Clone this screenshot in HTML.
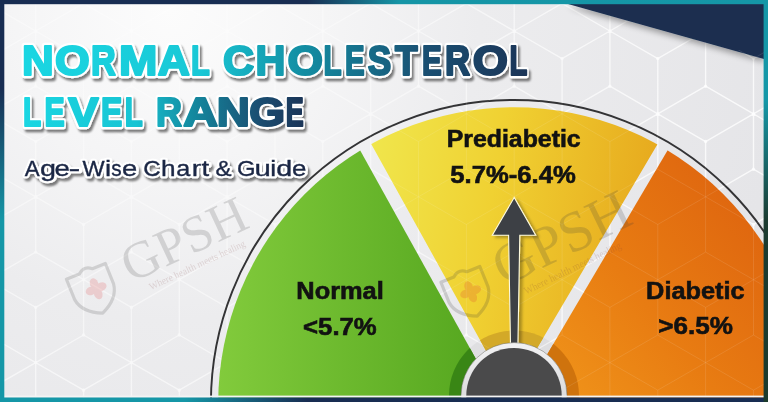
<!DOCTYPE html>
<html><head><meta charset="utf-8">
<style>
html,body{margin:0;padding:0;width:768px;height:402px;overflow:hidden;background:#eeeef0}
svg{display:block;will-change:transform}
text{font-family:"Liberation Sans",sans-serif}
</style></head>
<body>
<svg width="768" height="402" viewBox="0 0 768 402">
<defs>
  <radialGradient id="bg" cx="170" cy="10" r="620" gradientUnits="userSpaceOnUse">
    <stop offset="0" stop-color="#fcfcfc"/>
    <stop offset="0.25" stop-color="#f5f5f6"/>
    <stop offset="0.5" stop-color="#ececee"/>
    <stop offset="1" stop-color="#e5e5e8"/>
  </radialGradient>
  <linearGradient id="t1" x1="25" y1="0" x2="525" y2="0" gradientUnits="userSpaceOnUse">
    <stop offset="0" stop-color="#1ad6e2"/>
    <stop offset="0.35" stop-color="#19c8d6"/>
    <stop offset="0.55" stop-color="#138fa4"/>
    <stop offset="0.8" stop-color="#1a4f72"/>
    <stop offset="1" stop-color="#1b3558"/>
  </linearGradient>
  <linearGradient id="t2" x1="25" y1="0" x2="303" y2="0" gradientUnits="userSpaceOnUse">
    <stop offset="0" stop-color="#1ad6e2"/>
    <stop offset="0.4" stop-color="#18c4d3"/>
    <stop offset="0.6" stop-color="#148aa0"/>
    <stop offset="0.85" stop-color="#1a4c70"/>
    <stop offset="1" stop-color="#1b3558"/>
  </linearGradient>
  <linearGradient id="gGreen" x1="217" y1="0" x2="500" y2="0" gradientUnits="userSpaceOnUse">
    <stop offset="0" stop-color="#82cb3c"/>
    <stop offset="1" stop-color="#52a41d"/>
  </linearGradient>
  <linearGradient id="gYellow" x1="370" y1="150" x2="650" y2="200" gradientUnits="userSpaceOnUse">
    <stop offset="0" stop-color="#f0e64c"/>
    <stop offset="0.45" stop-color="#f0d132"/>
    <stop offset="1" stop-color="#e7aa1e"/>
  </linearGradient>
  <linearGradient id="gOrange" x1="540" y1="380" x2="764" y2="200" gradientUnits="userSpaceOnUse">
    <stop offset="0" stop-color="#f0941a"/>
    <stop offset="0.45" stop-color="#e87c12"/>
    <stop offset="1" stop-color="#de640f"/>
  </linearGradient>
  <linearGradient id="fTop" x1="0" y1="0" x2="768" y2="0" gradientUnits="userSpaceOnUse">
    <stop offset="0" stop-color="#182d52"/>
    <stop offset="0.4" stop-color="#182d52"/>
    <stop offset="0.52" stop-color="#1595a6"/>
    <stop offset="1" stop-color="#1597a7"/>
  </linearGradient>
  <linearGradient id="fLeft" x1="0" y1="0" x2="0" y2="402" gradientUnits="userSpaceOnUse">
    <stop offset="0" stop-color="#182d52"/>
    <stop offset="0.22" stop-color="#182d52"/>
    <stop offset="0.55" stop-color="#1597a7"/>
    <stop offset="1" stop-color="#1597a7"/>
  </linearGradient>
  <linearGradient id="fBot" x1="0" y1="0" x2="768" y2="0" gradientUnits="userSpaceOnUse">
    <stop offset="0" stop-color="#1597a7"/>
    <stop offset="0.24" stop-color="#1597a7"/>
    <stop offset="0.4" stop-color="#182d52"/>
    <stop offset="1" stop-color="#182d52"/>
  </linearGradient>
  <linearGradient id="fRight" x1="0" y1="0" x2="0" y2="402" gradientUnits="userSpaceOnUse">
    <stop offset="0" stop-color="#1597a7"/>
    <stop offset="0.25" stop-color="#1597a7"/>
    <stop offset="0.55" stop-color="#1c3b30"/>
    <stop offset="1" stop-color="#1c3b2c"/>
  </linearGradient>
  <radialGradient id="hexMaskG" cx="170" cy="60" r="520" gradientUnits="userSpaceOnUse">
    <stop offset="0" stop-color="#fff" stop-opacity="0.35"/>
    <stop offset="0.45" stop-color="#fff" stop-opacity="0.6"/>
    <stop offset="1" stop-color="#fff" stop-opacity="1"/>
  </radialGradient>
  <mask id="hexMask" maskUnits="userSpaceOnUse" x="0" y="0" width="768" height="402"><rect width="768" height="402" fill="url(#hexMaskG)"/></mask>
  <clipPath id="segClip"><circle cx="514" cy="403.1" r="295.8"/></clipPath>
  <clipPath id="ringClip"><circle cx="514" cy="403.1" r="302"/></clipPath>
  <clipPath id="segShapes">
    <polygon points="304.45,50 499.8,402 150,402 150,50"/>
    <polygon points="319.05,50 514.4,402 505.4,402 713.1,50"/>
    <polygon points="726.8,50 519.1,402 800,402 800,50"/>
  </clipPath>
  <linearGradient id="hubRing" x1="0" y1="342" x2="0" y2="396" gradientUnits="userSpaceOnUse">
    <stop offset="0" stop-color="#f2f2f3"/>
    <stop offset="1" stop-color="#dcdcde"/>
  </linearGradient>
  <filter id="tshadow" x="-10%" y="-30%" width="120%" height="160%">
    <feGaussianBlur in="SourceAlpha" stdDeviation="0.9"/>
    <feOffset dx="1.5" dy="2.5" result="b"/>
    <feComponentTransfer><feFuncA type="linear" slope="0.5"/></feComponentTransfer>
    <feMerge><feMergeNode/><feMergeNode in="SourceGraphic"/></feMerge>
  </filter>
  <filter id="triShadow" x="-10%" y="-30%" width="120%" height="180%">
    <feGaussianBlur in="SourceAlpha" stdDeviation="3"/>
    <feOffset dx="0" dy="3"/>
    <feComponentTransfer><feFuncA type="linear" slope="0.35"/></feComponentTransfer>
    <feMerge><feMergeNode/><feMergeNode in="SourceGraphic"/></feMerge>
  </filter>
  <filter id="arShadow" x="-50%" y="-10%" width="200%" height="120%">
    <feGaussianBlur in="SourceAlpha" stdDeviation="1.6"/>
    <feOffset dx="3" dy="1.5"/>
    <feComponentTransfer><feFuncA type="linear" slope="0.3"/></feComponentTransfer>
    <feMerge><feMergeNode/><feMergeNode in="SourceGraphic"/></feMerge>
  </filter>
</defs>

<!-- background -->
<rect width="768" height="402" fill="url(#bg)"/>
<g mask="url(#hexMask)">
<path d="M-12.1 445.5L-12.1 390.2M-12.1 445.5L-12.1 500.8M-12.1 445.5L35.7 417.9M-12.1 445.5L-60.0 417.9M-12.1 445.5L35.7 473.1M-12.1 445.5L-60.0 473.1M83.6 445.5L83.6 390.2M83.6 445.5L83.6 500.8M83.6 445.5L131.4 417.9M83.6 445.5L35.7 417.9M83.6 445.5L131.4 473.1M83.6 445.5L35.7 473.1M179.3 445.5L179.3 390.2M179.3 445.5L179.3 500.8M179.3 445.5L227.1 417.9M179.3 445.5L131.4 417.9M179.3 445.5L227.1 473.1M179.3 445.5L131.4 473.1M275.0 445.5L275.0 390.2M275.0 445.5L275.0 500.8M275.0 445.5L322.8 417.9M275.0 445.5L227.1 417.9M275.0 445.5L322.8 473.1M275.0 445.5L227.1 473.1M370.7 445.5L370.7 390.2M370.7 445.5L370.7 500.8M370.7 445.5L418.5 417.9M370.7 445.5L322.8 417.9M370.7 445.5L418.5 473.1M370.7 445.5L322.8 473.1M466.4 445.5L466.4 390.2M466.4 445.5L466.4 500.8M466.4 445.5L514.2 417.9M466.4 445.5L418.5 417.9M466.4 445.5L514.2 473.1M466.4 445.5L418.5 473.1M562.1 445.5L562.1 390.2M562.1 445.5L562.1 500.8M562.1 445.5L609.9 417.9M562.1 445.5L514.2 417.9M562.1 445.5L609.9 473.1M562.1 445.5L514.2 473.1M657.8 445.5L657.8 390.2M657.8 445.5L657.8 500.8M657.8 445.5L705.6 417.9M657.8 445.5L609.9 417.9M657.8 445.5L705.6 473.1M657.8 445.5L609.9 473.1M753.5 445.5L753.5 390.2M753.5 445.5L753.5 500.8M753.5 445.5L801.3 417.9M753.5 445.5L705.6 417.9M753.5 445.5L801.3 473.1M753.5 445.5L705.6 473.1M-60.0 362.6L-60.0 307.3M-60.0 362.6L-60.0 417.9M-60.0 362.6L-12.1 335.0M-60.0 362.6L-107.9 335.0M-60.0 362.6L-12.1 390.2M-60.0 362.6L-107.9 390.2M35.7 362.6L35.7 307.3M35.7 362.6L35.7 417.9M35.7 362.6L83.6 335.0M35.7 362.6L-12.2 335.0M35.7 362.6L83.6 390.2M35.7 362.6L-12.2 390.2M131.4 362.6L131.4 307.3M131.4 362.6L131.4 417.9M131.4 362.6L179.3 335.0M131.4 362.6L83.5 335.0M131.4 362.6L179.3 390.2M131.4 362.6L83.5 390.2M227.1 362.6L227.1 307.3M227.1 362.6L227.1 417.9M227.1 362.6L275.0 335.0M227.1 362.6L179.2 335.0M227.1 362.6L275.0 390.2M227.1 362.6L179.2 390.2M322.8 362.6L322.8 307.3M322.8 362.6L322.8 417.9M322.8 362.6L370.7 335.0M322.8 362.6L274.9 335.0M322.8 362.6L370.7 390.2M322.8 362.6L274.9 390.2M418.5 362.6L418.5 307.3M418.5 362.6L418.5 417.9M418.5 362.6L466.4 335.0M418.5 362.6L370.6 335.0M418.5 362.6L466.4 390.2M418.5 362.6L370.6 390.2M514.2 362.6L514.2 307.3M514.2 362.6L514.2 417.9M514.2 362.6L562.1 335.0M514.2 362.6L466.3 335.0M514.2 362.6L562.1 390.2M514.2 362.6L466.3 390.2M609.9 362.6L609.9 307.3M609.9 362.6L609.9 417.9M609.9 362.6L657.8 335.0M609.9 362.6L562.0 335.0M609.9 362.6L657.8 390.2M609.9 362.6L562.0 390.2M705.6 362.6L705.6 307.3M705.6 362.6L705.6 417.9M705.6 362.6L753.5 335.0M705.6 362.6L657.7 335.0M705.6 362.6L753.5 390.2M705.6 362.6L657.7 390.2M801.3 362.6L801.3 307.3M801.3 362.6L801.3 417.9M801.3 362.6L849.2 335.0M801.3 362.6L753.4 335.0M801.3 362.6L849.2 390.2M801.3 362.6L753.4 390.2M-12.1 279.7L-12.1 224.4M-12.1 279.7L-12.1 335.0M-12.1 279.7L35.7 252.1M-12.1 279.7L-60.0 252.1M-12.1 279.7L35.7 307.4M-12.1 279.7L-60.0 307.4M83.6 279.7L83.6 224.4M83.6 279.7L83.6 335.0M83.6 279.7L131.4 252.1M83.6 279.7L35.7 252.1M83.6 279.7L131.4 307.4M83.6 279.7L35.7 307.4M179.3 279.7L179.3 224.4M179.3 279.7L179.3 335.0M179.3 279.7L227.1 252.1M179.3 279.7L131.4 252.1M179.3 279.7L227.1 307.4M179.3 279.7L131.4 307.4M275.0 279.7L275.0 224.4M275.0 279.7L275.0 335.0M275.0 279.7L322.8 252.1M275.0 279.7L227.1 252.1M275.0 279.7L322.8 307.4M275.0 279.7L227.1 307.4M370.7 279.7L370.7 224.4M370.7 279.7L370.7 335.0M370.7 279.7L418.5 252.1M370.7 279.7L322.8 252.1M370.7 279.7L418.5 307.4M370.7 279.7L322.8 307.4M466.4 279.7L466.4 224.4M466.4 279.7L466.4 335.0M466.4 279.7L514.2 252.1M466.4 279.7L418.5 252.1M466.4 279.7L514.2 307.4M466.4 279.7L418.5 307.4M562.1 279.7L562.1 224.4M562.1 279.7L562.1 335.0M562.1 279.7L609.9 252.1M562.1 279.7L514.2 252.1M562.1 279.7L609.9 307.4M562.1 279.7L514.2 307.4M657.8 279.7L657.8 224.4M657.8 279.7L657.8 335.0M657.8 279.7L705.6 252.1M657.8 279.7L609.9 252.1M657.8 279.7L705.6 307.4M657.8 279.7L609.9 307.4M753.5 279.7L753.5 224.4M753.5 279.7L753.5 335.0M753.5 279.7L801.3 252.1M753.5 279.7L705.6 252.1M753.5 279.7L801.3 307.4M753.5 279.7L705.6 307.4M-60.0 196.8L-60.0 141.5M-60.0 196.8L-60.0 252.1M-60.0 196.8L-12.1 169.2M-60.0 196.8L-107.9 169.2M-60.0 196.8L-12.1 224.5M-60.0 196.8L-107.9 224.5M35.7 196.8L35.7 141.5M35.7 196.8L35.7 252.1M35.7 196.8L83.6 169.2M35.7 196.8L-12.2 169.2M35.7 196.8L83.6 224.5M35.7 196.8L-12.2 224.5M131.4 196.8L131.4 141.5M131.4 196.8L131.4 252.1M131.4 196.8L179.3 169.2M131.4 196.8L83.5 169.2M131.4 196.8L179.3 224.5M131.4 196.8L83.5 224.5M227.1 196.8L227.1 141.5M227.1 196.8L227.1 252.1M227.1 196.8L275.0 169.2M227.1 196.8L179.2 169.2M227.1 196.8L275.0 224.5M227.1 196.8L179.2 224.5M322.8 196.8L322.8 141.5M322.8 196.8L322.8 252.1M322.8 196.8L370.7 169.2M322.8 196.8L274.9 169.2M322.8 196.8L370.7 224.5M322.8 196.8L274.9 224.5M418.5 196.8L418.5 141.5M418.5 196.8L418.5 252.1M418.5 196.8L466.4 169.2M418.5 196.8L370.6 169.2M418.5 196.8L466.4 224.5M418.5 196.8L370.6 224.5M514.2 196.8L514.2 141.5M514.2 196.8L514.2 252.1M514.2 196.8L562.1 169.2M514.2 196.8L466.3 169.2M514.2 196.8L562.1 224.5M514.2 196.8L466.3 224.5M609.9 196.8L609.9 141.5M609.9 196.8L609.9 252.1M609.9 196.8L657.8 169.2M609.9 196.8L562.0 169.2M609.9 196.8L657.8 224.5M609.9 196.8L562.0 224.5M705.6 196.8L705.6 141.5M705.6 196.8L705.6 252.1M705.6 196.8L753.5 169.2M705.6 196.8L657.7 169.2M705.6 196.8L753.5 224.5M705.6 196.8L657.7 224.5M801.3 196.8L801.3 141.5M801.3 196.8L801.3 252.1M801.3 196.8L849.2 169.2M801.3 196.8L753.4 169.2M801.3 196.8L849.2 224.5M801.3 196.8L753.4 224.5M-12.1 113.9L-12.1 58.6M-12.1 113.9L-12.1 169.2M-12.1 113.9L35.7 86.2M-12.1 113.9L-60.0 86.2M-12.1 113.9L35.7 141.6M-12.1 113.9L-60.0 141.6M83.6 113.9L83.6 58.6M83.6 113.9L83.6 169.2M83.6 113.9L131.4 86.2M83.6 113.9L35.7 86.2M83.6 113.9L131.4 141.6M83.6 113.9L35.7 141.6M179.3 113.9L179.3 58.6M179.3 113.9L179.3 169.2M179.3 113.9L227.1 86.2M179.3 113.9L131.4 86.2M179.3 113.9L227.1 141.6M179.3 113.9L131.4 141.6M275.0 113.9L275.0 58.6M275.0 113.9L275.0 169.2M275.0 113.9L322.8 86.2M275.0 113.9L227.1 86.2M275.0 113.9L322.8 141.6M275.0 113.9L227.1 141.6M370.7 113.9L370.7 58.6M370.7 113.9L370.7 169.2M370.7 113.9L418.5 86.2M370.7 113.9L322.8 86.2M370.7 113.9L418.5 141.6M370.7 113.9L322.8 141.6M466.4 113.9L466.4 58.6M466.4 113.9L466.4 169.2M466.4 113.9L514.2 86.2M466.4 113.9L418.5 86.2M466.4 113.9L514.2 141.6M466.4 113.9L418.5 141.6M562.1 113.9L562.1 58.6M562.1 113.9L562.1 169.2M562.1 113.9L609.9 86.2M562.1 113.9L514.2 86.2M562.1 113.9L609.9 141.6M562.1 113.9L514.2 141.6M657.8 113.9L657.8 58.6M657.8 113.9L657.8 169.2M657.8 113.9L705.6 86.2M657.8 113.9L609.9 86.2M657.8 113.9L705.6 141.6M657.8 113.9L609.9 141.6M753.5 113.9L753.5 58.6M753.5 113.9L753.5 169.2M753.5 113.9L801.3 86.2M753.5 113.9L705.6 86.2M753.5 113.9L801.3 141.6M753.5 113.9L705.6 141.6M-60.0 31.0L-60.0 -24.3M-60.0 31.0L-60.0 86.3M-60.0 31.0L-12.1 3.4M-60.0 31.0L-107.9 3.4M-60.0 31.0L-12.1 58.6M-60.0 31.0L-107.9 58.6M35.7 31.0L35.7 -24.3M35.7 31.0L35.7 86.3M35.7 31.0L83.6 3.4M35.7 31.0L-12.2 3.4M35.7 31.0L83.6 58.6M35.7 31.0L-12.2 58.6M131.4 31.0L131.4 -24.3M131.4 31.0L131.4 86.3M131.4 31.0L179.3 3.4M131.4 31.0L83.5 3.4M131.4 31.0L179.3 58.6M131.4 31.0L83.5 58.6M227.1 31.0L227.1 -24.3M227.1 31.0L227.1 86.3M227.1 31.0L275.0 3.4M227.1 31.0L179.2 3.4M227.1 31.0L275.0 58.6M227.1 31.0L179.2 58.6M322.8 31.0L322.8 -24.3M322.8 31.0L322.8 86.3M322.8 31.0L370.7 3.4M322.8 31.0L274.9 3.4M322.8 31.0L370.7 58.6M322.8 31.0L274.9 58.6M418.5 31.0L418.5 -24.3M418.5 31.0L418.5 86.3M418.5 31.0L466.4 3.4M418.5 31.0L370.6 3.4M418.5 31.0L466.4 58.6M418.5 31.0L370.6 58.6M514.2 31.0L514.2 -24.3M514.2 31.0L514.2 86.3M514.2 31.0L562.1 3.4M514.2 31.0L466.3 3.4M514.2 31.0L562.1 58.6M514.2 31.0L466.3 58.6M609.9 31.0L609.9 -24.3M609.9 31.0L609.9 86.3M609.9 31.0L657.8 3.4M609.9 31.0L562.0 3.4M609.9 31.0L657.8 58.6M609.9 31.0L562.0 58.6M705.6 31.0L705.6 -24.3M705.6 31.0L705.6 86.3M705.6 31.0L753.5 3.4M705.6 31.0L657.7 3.4M705.6 31.0L753.5 58.6M705.6 31.0L657.7 58.6M801.3 31.0L801.3 -24.3M801.3 31.0L801.3 86.3M801.3 31.0L849.2 3.4M801.3 31.0L753.4 3.4M801.3 31.0L849.2 58.6M801.3 31.0L753.4 58.6M-12.1 -51.9L-12.1 -107.2M-12.1 -51.9L-12.1 3.4M-12.1 -51.9L35.7 -79.5M-12.1 -51.9L-60.0 -79.5M-12.1 -51.9L35.7 -24.2M-12.1 -51.9L-60.0 -24.2M83.6 -51.9L83.6 -107.2M83.6 -51.9L83.6 3.4M83.6 -51.9L131.4 -79.5M83.6 -51.9L35.7 -79.5M83.6 -51.9L131.4 -24.2M83.6 -51.9L35.7 -24.2M179.3 -51.9L179.3 -107.2M179.3 -51.9L179.3 3.4M179.3 -51.9L227.1 -79.5M179.3 -51.9L131.4 -79.5M179.3 -51.9L227.1 -24.2M179.3 -51.9L131.4 -24.2M275.0 -51.9L275.0 -107.2M275.0 -51.9L275.0 3.4M275.0 -51.9L322.8 -79.5M275.0 -51.9L227.1 -79.5M275.0 -51.9L322.8 -24.2M275.0 -51.9L227.1 -24.2M370.7 -51.9L370.7 -107.2M370.7 -51.9L370.7 3.4M370.7 -51.9L418.5 -79.5M370.7 -51.9L322.8 -79.5M370.7 -51.9L418.5 -24.2M370.7 -51.9L322.8 -24.2M466.4 -51.9L466.4 -107.2M466.4 -51.9L466.4 3.4M466.4 -51.9L514.2 -79.5M466.4 -51.9L418.5 -79.5M466.4 -51.9L514.2 -24.2M466.4 -51.9L418.5 -24.2M562.1 -51.9L562.1 -107.2M562.1 -51.9L562.1 3.4M562.1 -51.9L609.9 -79.5M562.1 -51.9L514.2 -79.5M562.1 -51.9L609.9 -24.2M562.1 -51.9L514.2 -24.2M657.8 -51.9L657.8 -107.2M657.8 -51.9L657.8 3.4M657.8 -51.9L705.6 -79.5M657.8 -51.9L609.9 -79.5M657.8 -51.9L705.6 -24.2M657.8 -51.9L609.9 -24.2M753.5 -51.9L753.5 -107.2M753.5 -51.9L753.5 3.4M753.5 -51.9L801.3 -79.5M753.5 -51.9L705.6 -79.5M753.5 -51.9L801.3 -24.2M753.5 -51.9L705.6 -24.2" stroke="#ffffff" stroke-width="1.4" stroke-opacity="0.75" fill="none"/>
<path d="M34.0 31.0a1.7 1.7 0 1 0 3.4 0a1.7 1.7 0 1 0 -3.4 0ZM34.0 86.2a1.7 1.7 0 1 0 3.4 0a1.7 1.7 0 1 0 -3.4 0ZM34.0 86.3a1.7 1.7 0 1 0 3.4 0a1.7 1.7 0 1 0 -3.4 0ZM34.0 141.5a1.7 1.7 0 1 0 3.4 0a1.7 1.7 0 1 0 -3.4 0ZM34.0 141.6a1.7 1.7 0 1 0 3.4 0a1.7 1.7 0 1 0 -3.4 0ZM34.0 196.8a1.7 1.7 0 1 0 3.4 0a1.7 1.7 0 1 0 -3.4 0ZM34.0 252.1a1.7 1.7 0 1 0 3.4 0a1.7 1.7 0 1 0 -3.4 0ZM34.0 307.3a1.7 1.7 0 1 0 3.4 0a1.7 1.7 0 1 0 -3.4 0ZM34.0 307.4a1.7 1.7 0 1 0 3.4 0a1.7 1.7 0 1 0 -3.4 0ZM34.0 362.6a1.7 1.7 0 1 0 3.4 0a1.7 1.7 0 1 0 -3.4 0ZM81.8 3.4a1.7 1.7 0 1 0 3.4 0a1.7 1.7 0 1 0 -3.4 0ZM81.8 58.6a1.7 1.7 0 1 0 3.4 0a1.7 1.7 0 1 0 -3.4 0ZM81.8 169.2a1.7 1.7 0 1 0 3.4 0a1.7 1.7 0 1 0 -3.4 0ZM81.8 224.5a1.7 1.7 0 1 0 3.4 0a1.7 1.7 0 1 0 -3.4 0ZM81.8 335.0a1.7 1.7 0 1 0 3.4 0a1.7 1.7 0 1 0 -3.4 0ZM81.8 390.2a1.7 1.7 0 1 0 3.4 0a1.7 1.7 0 1 0 -3.4 0ZM81.89999999999999 3.4a1.7 1.7 0 1 0 3.4 0a1.7 1.7 0 1 0 -3.4 0ZM81.89999999999999 58.6a1.7 1.7 0 1 0 3.4 0a1.7 1.7 0 1 0 -3.4 0ZM81.89999999999999 113.9a1.7 1.7 0 1 0 3.4 0a1.7 1.7 0 1 0 -3.4 0ZM81.89999999999999 169.2a1.7 1.7 0 1 0 3.4 0a1.7 1.7 0 1 0 -3.4 0ZM81.89999999999999 224.4a1.7 1.7 0 1 0 3.4 0a1.7 1.7 0 1 0 -3.4 0ZM81.89999999999999 224.5a1.7 1.7 0 1 0 3.4 0a1.7 1.7 0 1 0 -3.4 0ZM81.89999999999999 279.7a1.7 1.7 0 1 0 3.4 0a1.7 1.7 0 1 0 -3.4 0ZM81.89999999999999 335.0a1.7 1.7 0 1 0 3.4 0a1.7 1.7 0 1 0 -3.4 0ZM81.89999999999999 390.2a1.7 1.7 0 1 0 3.4 0a1.7 1.7 0 1 0 -3.4 0ZM129.70000000000002 31.0a1.7 1.7 0 1 0 3.4 0a1.7 1.7 0 1 0 -3.4 0ZM129.70000000000002 86.2a1.7 1.7 0 1 0 3.4 0a1.7 1.7 0 1 0 -3.4 0ZM129.70000000000002 86.3a1.7 1.7 0 1 0 3.4 0a1.7 1.7 0 1 0 -3.4 0ZM129.70000000000002 141.5a1.7 1.7 0 1 0 3.4 0a1.7 1.7 0 1 0 -3.4 0ZM129.70000000000002 141.6a1.7 1.7 0 1 0 3.4 0a1.7 1.7 0 1 0 -3.4 0ZM129.70000000000002 196.8a1.7 1.7 0 1 0 3.4 0a1.7 1.7 0 1 0 -3.4 0ZM129.70000000000002 252.1a1.7 1.7 0 1 0 3.4 0a1.7 1.7 0 1 0 -3.4 0ZM129.70000000000002 307.3a1.7 1.7 0 1 0 3.4 0a1.7 1.7 0 1 0 -3.4 0ZM129.70000000000002 307.4a1.7 1.7 0 1 0 3.4 0a1.7 1.7 0 1 0 -3.4 0ZM129.70000000000002 362.6a1.7 1.7 0 1 0 3.4 0a1.7 1.7 0 1 0 -3.4 0ZM177.5 3.4a1.7 1.7 0 1 0 3.4 0a1.7 1.7 0 1 0 -3.4 0ZM177.5 58.6a1.7 1.7 0 1 0 3.4 0a1.7 1.7 0 1 0 -3.4 0ZM177.5 169.2a1.7 1.7 0 1 0 3.4 0a1.7 1.7 0 1 0 -3.4 0ZM177.5 224.5a1.7 1.7 0 1 0 3.4 0a1.7 1.7 0 1 0 -3.4 0ZM177.5 335.0a1.7 1.7 0 1 0 3.4 0a1.7 1.7 0 1 0 -3.4 0ZM177.5 390.2a1.7 1.7 0 1 0 3.4 0a1.7 1.7 0 1 0 -3.4 0ZM177.60000000000002 3.4a1.7 1.7 0 1 0 3.4 0a1.7 1.7 0 1 0 -3.4 0ZM177.60000000000002 58.6a1.7 1.7 0 1 0 3.4 0a1.7 1.7 0 1 0 -3.4 0ZM177.60000000000002 113.9a1.7 1.7 0 1 0 3.4 0a1.7 1.7 0 1 0 -3.4 0ZM177.60000000000002 169.2a1.7 1.7 0 1 0 3.4 0a1.7 1.7 0 1 0 -3.4 0ZM177.60000000000002 224.4a1.7 1.7 0 1 0 3.4 0a1.7 1.7 0 1 0 -3.4 0ZM177.60000000000002 224.5a1.7 1.7 0 1 0 3.4 0a1.7 1.7 0 1 0 -3.4 0ZM177.60000000000002 279.7a1.7 1.7 0 1 0 3.4 0a1.7 1.7 0 1 0 -3.4 0ZM177.60000000000002 335.0a1.7 1.7 0 1 0 3.4 0a1.7 1.7 0 1 0 -3.4 0ZM177.60000000000002 390.2a1.7 1.7 0 1 0 3.4 0a1.7 1.7 0 1 0 -3.4 0ZM225.4 31.0a1.7 1.7 0 1 0 3.4 0a1.7 1.7 0 1 0 -3.4 0ZM225.4 86.2a1.7 1.7 0 1 0 3.4 0a1.7 1.7 0 1 0 -3.4 0ZM225.4 86.3a1.7 1.7 0 1 0 3.4 0a1.7 1.7 0 1 0 -3.4 0ZM225.4 141.5a1.7 1.7 0 1 0 3.4 0a1.7 1.7 0 1 0 -3.4 0ZM225.4 141.6a1.7 1.7 0 1 0 3.4 0a1.7 1.7 0 1 0 -3.4 0ZM225.4 196.8a1.7 1.7 0 1 0 3.4 0a1.7 1.7 0 1 0 -3.4 0ZM225.4 252.1a1.7 1.7 0 1 0 3.4 0a1.7 1.7 0 1 0 -3.4 0ZM225.4 307.3a1.7 1.7 0 1 0 3.4 0a1.7 1.7 0 1 0 -3.4 0ZM225.4 307.4a1.7 1.7 0 1 0 3.4 0a1.7 1.7 0 1 0 -3.4 0ZM225.4 362.6a1.7 1.7 0 1 0 3.4 0a1.7 1.7 0 1 0 -3.4 0ZM273.2 3.4a1.7 1.7 0 1 0 3.4 0a1.7 1.7 0 1 0 -3.4 0ZM273.2 58.6a1.7 1.7 0 1 0 3.4 0a1.7 1.7 0 1 0 -3.4 0ZM273.2 169.2a1.7 1.7 0 1 0 3.4 0a1.7 1.7 0 1 0 -3.4 0ZM273.2 224.5a1.7 1.7 0 1 0 3.4 0a1.7 1.7 0 1 0 -3.4 0ZM273.2 335.0a1.7 1.7 0 1 0 3.4 0a1.7 1.7 0 1 0 -3.4 0ZM273.2 390.2a1.7 1.7 0 1 0 3.4 0a1.7 1.7 0 1 0 -3.4 0ZM273.3 3.4a1.7 1.7 0 1 0 3.4 0a1.7 1.7 0 1 0 -3.4 0ZM273.3 58.6a1.7 1.7 0 1 0 3.4 0a1.7 1.7 0 1 0 -3.4 0ZM273.3 113.9a1.7 1.7 0 1 0 3.4 0a1.7 1.7 0 1 0 -3.4 0ZM273.3 169.2a1.7 1.7 0 1 0 3.4 0a1.7 1.7 0 1 0 -3.4 0ZM273.3 224.4a1.7 1.7 0 1 0 3.4 0a1.7 1.7 0 1 0 -3.4 0ZM273.3 224.5a1.7 1.7 0 1 0 3.4 0a1.7 1.7 0 1 0 -3.4 0ZM273.3 279.7a1.7 1.7 0 1 0 3.4 0a1.7 1.7 0 1 0 -3.4 0ZM273.3 335.0a1.7 1.7 0 1 0 3.4 0a1.7 1.7 0 1 0 -3.4 0ZM273.3 390.2a1.7 1.7 0 1 0 3.4 0a1.7 1.7 0 1 0 -3.4 0ZM321.1 31.0a1.7 1.7 0 1 0 3.4 0a1.7 1.7 0 1 0 -3.4 0ZM321.1 86.2a1.7 1.7 0 1 0 3.4 0a1.7 1.7 0 1 0 -3.4 0ZM321.1 86.3a1.7 1.7 0 1 0 3.4 0a1.7 1.7 0 1 0 -3.4 0ZM321.1 141.5a1.7 1.7 0 1 0 3.4 0a1.7 1.7 0 1 0 -3.4 0ZM321.1 141.6a1.7 1.7 0 1 0 3.4 0a1.7 1.7 0 1 0 -3.4 0ZM321.1 196.8a1.7 1.7 0 1 0 3.4 0a1.7 1.7 0 1 0 -3.4 0ZM321.1 252.1a1.7 1.7 0 1 0 3.4 0a1.7 1.7 0 1 0 -3.4 0ZM321.1 307.3a1.7 1.7 0 1 0 3.4 0a1.7 1.7 0 1 0 -3.4 0ZM321.1 307.4a1.7 1.7 0 1 0 3.4 0a1.7 1.7 0 1 0 -3.4 0ZM321.1 362.6a1.7 1.7 0 1 0 3.4 0a1.7 1.7 0 1 0 -3.4 0ZM368.90000000000003 3.4a1.7 1.7 0 1 0 3.4 0a1.7 1.7 0 1 0 -3.4 0ZM368.90000000000003 58.6a1.7 1.7 0 1 0 3.4 0a1.7 1.7 0 1 0 -3.4 0ZM368.90000000000003 169.2a1.7 1.7 0 1 0 3.4 0a1.7 1.7 0 1 0 -3.4 0ZM368.90000000000003 224.5a1.7 1.7 0 1 0 3.4 0a1.7 1.7 0 1 0 -3.4 0ZM368.90000000000003 335.0a1.7 1.7 0 1 0 3.4 0a1.7 1.7 0 1 0 -3.4 0ZM368.90000000000003 390.2a1.7 1.7 0 1 0 3.4 0a1.7 1.7 0 1 0 -3.4 0ZM369.0 3.4a1.7 1.7 0 1 0 3.4 0a1.7 1.7 0 1 0 -3.4 0ZM369.0 58.6a1.7 1.7 0 1 0 3.4 0a1.7 1.7 0 1 0 -3.4 0ZM369.0 113.9a1.7 1.7 0 1 0 3.4 0a1.7 1.7 0 1 0 -3.4 0ZM369.0 169.2a1.7 1.7 0 1 0 3.4 0a1.7 1.7 0 1 0 -3.4 0ZM369.0 224.4a1.7 1.7 0 1 0 3.4 0a1.7 1.7 0 1 0 -3.4 0ZM369.0 224.5a1.7 1.7 0 1 0 3.4 0a1.7 1.7 0 1 0 -3.4 0ZM369.0 279.7a1.7 1.7 0 1 0 3.4 0a1.7 1.7 0 1 0 -3.4 0ZM369.0 335.0a1.7 1.7 0 1 0 3.4 0a1.7 1.7 0 1 0 -3.4 0ZM369.0 390.2a1.7 1.7 0 1 0 3.4 0a1.7 1.7 0 1 0 -3.4 0ZM416.8 31.0a1.7 1.7 0 1 0 3.4 0a1.7 1.7 0 1 0 -3.4 0ZM416.8 86.2a1.7 1.7 0 1 0 3.4 0a1.7 1.7 0 1 0 -3.4 0ZM416.8 86.3a1.7 1.7 0 1 0 3.4 0a1.7 1.7 0 1 0 -3.4 0ZM416.8 141.5a1.7 1.7 0 1 0 3.4 0a1.7 1.7 0 1 0 -3.4 0ZM416.8 141.6a1.7 1.7 0 1 0 3.4 0a1.7 1.7 0 1 0 -3.4 0ZM416.8 196.8a1.7 1.7 0 1 0 3.4 0a1.7 1.7 0 1 0 -3.4 0ZM416.8 252.1a1.7 1.7 0 1 0 3.4 0a1.7 1.7 0 1 0 -3.4 0ZM416.8 307.3a1.7 1.7 0 1 0 3.4 0a1.7 1.7 0 1 0 -3.4 0ZM416.8 307.4a1.7 1.7 0 1 0 3.4 0a1.7 1.7 0 1 0 -3.4 0ZM416.8 362.6a1.7 1.7 0 1 0 3.4 0a1.7 1.7 0 1 0 -3.4 0ZM464.6 3.4a1.7 1.7 0 1 0 3.4 0a1.7 1.7 0 1 0 -3.4 0ZM464.6 58.6a1.7 1.7 0 1 0 3.4 0a1.7 1.7 0 1 0 -3.4 0ZM464.6 169.2a1.7 1.7 0 1 0 3.4 0a1.7 1.7 0 1 0 -3.4 0ZM464.6 224.5a1.7 1.7 0 1 0 3.4 0a1.7 1.7 0 1 0 -3.4 0ZM464.6 335.0a1.7 1.7 0 1 0 3.4 0a1.7 1.7 0 1 0 -3.4 0ZM464.6 390.2a1.7 1.7 0 1 0 3.4 0a1.7 1.7 0 1 0 -3.4 0ZM464.7 3.4a1.7 1.7 0 1 0 3.4 0a1.7 1.7 0 1 0 -3.4 0ZM464.7 58.6a1.7 1.7 0 1 0 3.4 0a1.7 1.7 0 1 0 -3.4 0ZM464.7 113.9a1.7 1.7 0 1 0 3.4 0a1.7 1.7 0 1 0 -3.4 0ZM464.7 169.2a1.7 1.7 0 1 0 3.4 0a1.7 1.7 0 1 0 -3.4 0ZM464.7 224.4a1.7 1.7 0 1 0 3.4 0a1.7 1.7 0 1 0 -3.4 0ZM464.7 224.5a1.7 1.7 0 1 0 3.4 0a1.7 1.7 0 1 0 -3.4 0ZM464.7 279.7a1.7 1.7 0 1 0 3.4 0a1.7 1.7 0 1 0 -3.4 0ZM464.7 335.0a1.7 1.7 0 1 0 3.4 0a1.7 1.7 0 1 0 -3.4 0ZM464.7 390.2a1.7 1.7 0 1 0 3.4 0a1.7 1.7 0 1 0 -3.4 0ZM512.5 31.0a1.7 1.7 0 1 0 3.4 0a1.7 1.7 0 1 0 -3.4 0ZM512.5 86.2a1.7 1.7 0 1 0 3.4 0a1.7 1.7 0 1 0 -3.4 0ZM512.5 86.3a1.7 1.7 0 1 0 3.4 0a1.7 1.7 0 1 0 -3.4 0ZM512.5 141.5a1.7 1.7 0 1 0 3.4 0a1.7 1.7 0 1 0 -3.4 0ZM512.5 141.6a1.7 1.7 0 1 0 3.4 0a1.7 1.7 0 1 0 -3.4 0ZM512.5 196.8a1.7 1.7 0 1 0 3.4 0a1.7 1.7 0 1 0 -3.4 0ZM512.5 252.1a1.7 1.7 0 1 0 3.4 0a1.7 1.7 0 1 0 -3.4 0ZM512.5 307.3a1.7 1.7 0 1 0 3.4 0a1.7 1.7 0 1 0 -3.4 0ZM512.5 307.4a1.7 1.7 0 1 0 3.4 0a1.7 1.7 0 1 0 -3.4 0ZM512.5 362.6a1.7 1.7 0 1 0 3.4 0a1.7 1.7 0 1 0 -3.4 0ZM560.3 3.4a1.7 1.7 0 1 0 3.4 0a1.7 1.7 0 1 0 -3.4 0ZM560.3 58.6a1.7 1.7 0 1 0 3.4 0a1.7 1.7 0 1 0 -3.4 0ZM560.3 169.2a1.7 1.7 0 1 0 3.4 0a1.7 1.7 0 1 0 -3.4 0ZM560.3 224.5a1.7 1.7 0 1 0 3.4 0a1.7 1.7 0 1 0 -3.4 0ZM560.3 335.0a1.7 1.7 0 1 0 3.4 0a1.7 1.7 0 1 0 -3.4 0ZM560.3 390.2a1.7 1.7 0 1 0 3.4 0a1.7 1.7 0 1 0 -3.4 0ZM560.4 3.4a1.7 1.7 0 1 0 3.4 0a1.7 1.7 0 1 0 -3.4 0ZM560.4 58.6a1.7 1.7 0 1 0 3.4 0a1.7 1.7 0 1 0 -3.4 0ZM560.4 113.9a1.7 1.7 0 1 0 3.4 0a1.7 1.7 0 1 0 -3.4 0ZM560.4 169.2a1.7 1.7 0 1 0 3.4 0a1.7 1.7 0 1 0 -3.4 0ZM560.4 224.4a1.7 1.7 0 1 0 3.4 0a1.7 1.7 0 1 0 -3.4 0ZM560.4 224.5a1.7 1.7 0 1 0 3.4 0a1.7 1.7 0 1 0 -3.4 0ZM560.4 279.7a1.7 1.7 0 1 0 3.4 0a1.7 1.7 0 1 0 -3.4 0ZM560.4 335.0a1.7 1.7 0 1 0 3.4 0a1.7 1.7 0 1 0 -3.4 0ZM560.4 390.2a1.7 1.7 0 1 0 3.4 0a1.7 1.7 0 1 0 -3.4 0ZM608.1999999999999 31.0a1.7 1.7 0 1 0 3.4 0a1.7 1.7 0 1 0 -3.4 0ZM608.1999999999999 86.2a1.7 1.7 0 1 0 3.4 0a1.7 1.7 0 1 0 -3.4 0ZM608.1999999999999 86.3a1.7 1.7 0 1 0 3.4 0a1.7 1.7 0 1 0 -3.4 0ZM608.1999999999999 141.5a1.7 1.7 0 1 0 3.4 0a1.7 1.7 0 1 0 -3.4 0ZM608.1999999999999 141.6a1.7 1.7 0 1 0 3.4 0a1.7 1.7 0 1 0 -3.4 0ZM608.1999999999999 196.8a1.7 1.7 0 1 0 3.4 0a1.7 1.7 0 1 0 -3.4 0ZM608.1999999999999 252.1a1.7 1.7 0 1 0 3.4 0a1.7 1.7 0 1 0 -3.4 0ZM608.1999999999999 307.3a1.7 1.7 0 1 0 3.4 0a1.7 1.7 0 1 0 -3.4 0ZM608.1999999999999 307.4a1.7 1.7 0 1 0 3.4 0a1.7 1.7 0 1 0 -3.4 0ZM608.1999999999999 362.6a1.7 1.7 0 1 0 3.4 0a1.7 1.7 0 1 0 -3.4 0ZM656.0 3.4a1.7 1.7 0 1 0 3.4 0a1.7 1.7 0 1 0 -3.4 0ZM656.0 58.6a1.7 1.7 0 1 0 3.4 0a1.7 1.7 0 1 0 -3.4 0ZM656.0 169.2a1.7 1.7 0 1 0 3.4 0a1.7 1.7 0 1 0 -3.4 0ZM656.0 224.5a1.7 1.7 0 1 0 3.4 0a1.7 1.7 0 1 0 -3.4 0ZM656.0 335.0a1.7 1.7 0 1 0 3.4 0a1.7 1.7 0 1 0 -3.4 0ZM656.0 390.2a1.7 1.7 0 1 0 3.4 0a1.7 1.7 0 1 0 -3.4 0ZM656.0999999999999 3.4a1.7 1.7 0 1 0 3.4 0a1.7 1.7 0 1 0 -3.4 0ZM656.0999999999999 58.6a1.7 1.7 0 1 0 3.4 0a1.7 1.7 0 1 0 -3.4 0ZM656.0999999999999 113.9a1.7 1.7 0 1 0 3.4 0a1.7 1.7 0 1 0 -3.4 0ZM656.0999999999999 169.2a1.7 1.7 0 1 0 3.4 0a1.7 1.7 0 1 0 -3.4 0ZM656.0999999999999 224.4a1.7 1.7 0 1 0 3.4 0a1.7 1.7 0 1 0 -3.4 0ZM656.0999999999999 224.5a1.7 1.7 0 1 0 3.4 0a1.7 1.7 0 1 0 -3.4 0ZM656.0999999999999 279.7a1.7 1.7 0 1 0 3.4 0a1.7 1.7 0 1 0 -3.4 0ZM656.0999999999999 335.0a1.7 1.7 0 1 0 3.4 0a1.7 1.7 0 1 0 -3.4 0ZM656.0999999999999 390.2a1.7 1.7 0 1 0 3.4 0a1.7 1.7 0 1 0 -3.4 0ZM703.9 31.0a1.7 1.7 0 1 0 3.4 0a1.7 1.7 0 1 0 -3.4 0ZM703.9 86.2a1.7 1.7 0 1 0 3.4 0a1.7 1.7 0 1 0 -3.4 0ZM703.9 86.3a1.7 1.7 0 1 0 3.4 0a1.7 1.7 0 1 0 -3.4 0ZM703.9 141.5a1.7 1.7 0 1 0 3.4 0a1.7 1.7 0 1 0 -3.4 0ZM703.9 141.6a1.7 1.7 0 1 0 3.4 0a1.7 1.7 0 1 0 -3.4 0ZM703.9 196.8a1.7 1.7 0 1 0 3.4 0a1.7 1.7 0 1 0 -3.4 0ZM703.9 252.1a1.7 1.7 0 1 0 3.4 0a1.7 1.7 0 1 0 -3.4 0ZM703.9 307.3a1.7 1.7 0 1 0 3.4 0a1.7 1.7 0 1 0 -3.4 0ZM703.9 307.4a1.7 1.7 0 1 0 3.4 0a1.7 1.7 0 1 0 -3.4 0ZM703.9 362.6a1.7 1.7 0 1 0 3.4 0a1.7 1.7 0 1 0 -3.4 0ZM751.8 3.4a1.7 1.7 0 1 0 3.4 0a1.7 1.7 0 1 0 -3.4 0ZM751.8 58.6a1.7 1.7 0 1 0 3.4 0a1.7 1.7 0 1 0 -3.4 0ZM751.8 113.9a1.7 1.7 0 1 0 3.4 0a1.7 1.7 0 1 0 -3.4 0ZM751.8 169.2a1.7 1.7 0 1 0 3.4 0a1.7 1.7 0 1 0 -3.4 0ZM751.8 224.4a1.7 1.7 0 1 0 3.4 0a1.7 1.7 0 1 0 -3.4 0ZM751.8 224.5a1.7 1.7 0 1 0 3.4 0a1.7 1.7 0 1 0 -3.4 0ZM751.8 279.7a1.7 1.7 0 1 0 3.4 0a1.7 1.7 0 1 0 -3.4 0ZM751.8 335.0a1.7 1.7 0 1 0 3.4 0a1.7 1.7 0 1 0 -3.4 0ZM751.8 390.2a1.7 1.7 0 1 0 3.4 0a1.7 1.7 0 1 0 -3.4 0Z" fill="#ffffff" fill-opacity="0.7"/>

</g>
<!-- navy corner triangle -->
<polygon points="568,4 764,4 764,59" fill="#1a2f50" filter="url(#triShadow)"/>

<!-- gauge ring -->
<circle cx="514" cy="403.1" r="303.1" fill="none" stroke="#333335" stroke-width="1.9"/>

<!-- segments -->
<g clip-path="url(#segClip)">
  <polygon points="304.45,50 499.8,402 150,402 150,50" fill="url(#gGreen)"/>
  <polygon points="319.05,50 514.4,402 505.4,402 713.1,50" fill="url(#gYellow)"/>
  <polygon points="726.8,50 519.1,402 800,402 800,50" fill="url(#gOrange)"/>
</g>
<!-- hub shadow band -->
<clipPath id="cpG"><polygon points="304.45,50 499.8,402 150,402 150,50"/></clipPath>
<clipPath id="cpY"><polygon points="319.05,50 514.4,402 505.4,402 713.1,50"/></clipPath>
<clipPath id="cpO"><polygon points="726.8,50 519.1,402 800,402 800,50"/></clipPath>
<clipPath id="cpYO"><polygon points="319.05,50 514.4,402 800,402 800,50"/></clipPath>
<circle cx="514" cy="395.6" r="65" fill="#3c8c16" clip-path="url(#cpG)"/>
<circle cx="514" cy="395.6" r="65" fill="#dcb02a" clip-path="url(#cpY)"/>
<circle cx="514" cy="395.6" r="65" fill="#d8780e" clip-path="url(#cpO)"/>
<circle cx="514" cy="395.6" r="65" fill="#000" fill-opacity="0.04"/>

<path d="M-12.1 445.5L-12.1 390.2M-12.1 445.5L-12.1 500.8M-12.1 445.5L35.7 417.9M-12.1 445.5L-60.0 417.9M-12.1 445.5L35.7 473.1M-12.1 445.5L-60.0 473.1M83.6 445.5L83.6 390.2M83.6 445.5L83.6 500.8M83.6 445.5L131.4 417.9M83.6 445.5L35.7 417.9M83.6 445.5L131.4 473.1M83.6 445.5L35.7 473.1M179.3 445.5L179.3 390.2M179.3 445.5L179.3 500.8M179.3 445.5L227.1 417.9M179.3 445.5L131.4 417.9M179.3 445.5L227.1 473.1M179.3 445.5L131.4 473.1M275.0 445.5L275.0 390.2M275.0 445.5L275.0 500.8M275.0 445.5L322.8 417.9M275.0 445.5L227.1 417.9M275.0 445.5L322.8 473.1M275.0 445.5L227.1 473.1M370.7 445.5L370.7 390.2M370.7 445.5L370.7 500.8M370.7 445.5L418.5 417.9M370.7 445.5L322.8 417.9M370.7 445.5L418.5 473.1M370.7 445.5L322.8 473.1M466.4 445.5L466.4 390.2M466.4 445.5L466.4 500.8M466.4 445.5L514.2 417.9M466.4 445.5L418.5 417.9M466.4 445.5L514.2 473.1M466.4 445.5L418.5 473.1M562.1 445.5L562.1 390.2M562.1 445.5L562.1 500.8M562.1 445.5L609.9 417.9M562.1 445.5L514.2 417.9M562.1 445.5L609.9 473.1M562.1 445.5L514.2 473.1M657.8 445.5L657.8 390.2M657.8 445.5L657.8 500.8M657.8 445.5L705.6 417.9M657.8 445.5L609.9 417.9M657.8 445.5L705.6 473.1M657.8 445.5L609.9 473.1M753.5 445.5L753.5 390.2M753.5 445.5L753.5 500.8M753.5 445.5L801.3 417.9M753.5 445.5L705.6 417.9M753.5 445.5L801.3 473.1M753.5 445.5L705.6 473.1M-60.0 362.6L-60.0 307.3M-60.0 362.6L-60.0 417.9M-60.0 362.6L-12.1 335.0M-60.0 362.6L-107.9 335.0M-60.0 362.6L-12.1 390.2M-60.0 362.6L-107.9 390.2M35.7 362.6L35.7 307.3M35.7 362.6L35.7 417.9M35.7 362.6L83.6 335.0M35.7 362.6L-12.2 335.0M35.7 362.6L83.6 390.2M35.7 362.6L-12.2 390.2M131.4 362.6L131.4 307.3M131.4 362.6L131.4 417.9M131.4 362.6L179.3 335.0M131.4 362.6L83.5 335.0M131.4 362.6L179.3 390.2M131.4 362.6L83.5 390.2M227.1 362.6L227.1 307.3M227.1 362.6L227.1 417.9M227.1 362.6L275.0 335.0M227.1 362.6L179.2 335.0M227.1 362.6L275.0 390.2M227.1 362.6L179.2 390.2M322.8 362.6L322.8 307.3M322.8 362.6L322.8 417.9M322.8 362.6L370.7 335.0M322.8 362.6L274.9 335.0M322.8 362.6L370.7 390.2M322.8 362.6L274.9 390.2M418.5 362.6L418.5 307.3M418.5 362.6L418.5 417.9M418.5 362.6L466.4 335.0M418.5 362.6L370.6 335.0M418.5 362.6L466.4 390.2M418.5 362.6L370.6 390.2M514.2 362.6L514.2 307.3M514.2 362.6L514.2 417.9M514.2 362.6L562.1 335.0M514.2 362.6L466.3 335.0M514.2 362.6L562.1 390.2M514.2 362.6L466.3 390.2M609.9 362.6L609.9 307.3M609.9 362.6L609.9 417.9M609.9 362.6L657.8 335.0M609.9 362.6L562.0 335.0M609.9 362.6L657.8 390.2M609.9 362.6L562.0 390.2M705.6 362.6L705.6 307.3M705.6 362.6L705.6 417.9M705.6 362.6L753.5 335.0M705.6 362.6L657.7 335.0M705.6 362.6L753.5 390.2M705.6 362.6L657.7 390.2M801.3 362.6L801.3 307.3M801.3 362.6L801.3 417.9M801.3 362.6L849.2 335.0M801.3 362.6L753.4 335.0M801.3 362.6L849.2 390.2M801.3 362.6L753.4 390.2M-12.1 279.7L-12.1 224.4M-12.1 279.7L-12.1 335.0M-12.1 279.7L35.7 252.1M-12.1 279.7L-60.0 252.1M-12.1 279.7L35.7 307.4M-12.1 279.7L-60.0 307.4M83.6 279.7L83.6 224.4M83.6 279.7L83.6 335.0M83.6 279.7L131.4 252.1M83.6 279.7L35.7 252.1M83.6 279.7L131.4 307.4M83.6 279.7L35.7 307.4M179.3 279.7L179.3 224.4M179.3 279.7L179.3 335.0M179.3 279.7L227.1 252.1M179.3 279.7L131.4 252.1M179.3 279.7L227.1 307.4M179.3 279.7L131.4 307.4M275.0 279.7L275.0 224.4M275.0 279.7L275.0 335.0M275.0 279.7L322.8 252.1M275.0 279.7L227.1 252.1M275.0 279.7L322.8 307.4M275.0 279.7L227.1 307.4M370.7 279.7L370.7 224.4M370.7 279.7L370.7 335.0M370.7 279.7L418.5 252.1M370.7 279.7L322.8 252.1M370.7 279.7L418.5 307.4M370.7 279.7L322.8 307.4M466.4 279.7L466.4 224.4M466.4 279.7L466.4 335.0M466.4 279.7L514.2 252.1M466.4 279.7L418.5 252.1M466.4 279.7L514.2 307.4M466.4 279.7L418.5 307.4M562.1 279.7L562.1 224.4M562.1 279.7L562.1 335.0M562.1 279.7L609.9 252.1M562.1 279.7L514.2 252.1M562.1 279.7L609.9 307.4M562.1 279.7L514.2 307.4M657.8 279.7L657.8 224.4M657.8 279.7L657.8 335.0M657.8 279.7L705.6 252.1M657.8 279.7L609.9 252.1M657.8 279.7L705.6 307.4M657.8 279.7L609.9 307.4M753.5 279.7L753.5 224.4M753.5 279.7L753.5 335.0M753.5 279.7L801.3 252.1M753.5 279.7L705.6 252.1M753.5 279.7L801.3 307.4M753.5 279.7L705.6 307.4M-60.0 196.8L-60.0 141.5M-60.0 196.8L-60.0 252.1M-60.0 196.8L-12.1 169.2M-60.0 196.8L-107.9 169.2M-60.0 196.8L-12.1 224.5M-60.0 196.8L-107.9 224.5M35.7 196.8L35.7 141.5M35.7 196.8L35.7 252.1M35.7 196.8L83.6 169.2M35.7 196.8L-12.2 169.2M35.7 196.8L83.6 224.5M35.7 196.8L-12.2 224.5M131.4 196.8L131.4 141.5M131.4 196.8L131.4 252.1M131.4 196.8L179.3 169.2M131.4 196.8L83.5 169.2M131.4 196.8L179.3 224.5M131.4 196.8L83.5 224.5M227.1 196.8L227.1 141.5M227.1 196.8L227.1 252.1M227.1 196.8L275.0 169.2M227.1 196.8L179.2 169.2M227.1 196.8L275.0 224.5M227.1 196.8L179.2 224.5M322.8 196.8L322.8 141.5M322.8 196.8L322.8 252.1M322.8 196.8L370.7 169.2M322.8 196.8L274.9 169.2M322.8 196.8L370.7 224.5M322.8 196.8L274.9 224.5M418.5 196.8L418.5 141.5M418.5 196.8L418.5 252.1M418.5 196.8L466.4 169.2M418.5 196.8L370.6 169.2M418.5 196.8L466.4 224.5M418.5 196.8L370.6 224.5M514.2 196.8L514.2 141.5M514.2 196.8L514.2 252.1M514.2 196.8L562.1 169.2M514.2 196.8L466.3 169.2M514.2 196.8L562.1 224.5M514.2 196.8L466.3 224.5M609.9 196.8L609.9 141.5M609.9 196.8L609.9 252.1M609.9 196.8L657.8 169.2M609.9 196.8L562.0 169.2M609.9 196.8L657.8 224.5M609.9 196.8L562.0 224.5M705.6 196.8L705.6 141.5M705.6 196.8L705.6 252.1M705.6 196.8L753.5 169.2M705.6 196.8L657.7 169.2M705.6 196.8L753.5 224.5M705.6 196.8L657.7 224.5M801.3 196.8L801.3 141.5M801.3 196.8L801.3 252.1M801.3 196.8L849.2 169.2M801.3 196.8L753.4 169.2M801.3 196.8L849.2 224.5M801.3 196.8L753.4 224.5M-12.1 113.9L-12.1 58.6M-12.1 113.9L-12.1 169.2M-12.1 113.9L35.7 86.2M-12.1 113.9L-60.0 86.2M-12.1 113.9L35.7 141.6M-12.1 113.9L-60.0 141.6M83.6 113.9L83.6 58.6M83.6 113.9L83.6 169.2M83.6 113.9L131.4 86.2M83.6 113.9L35.7 86.2M83.6 113.9L131.4 141.6M83.6 113.9L35.7 141.6M179.3 113.9L179.3 58.6M179.3 113.9L179.3 169.2M179.3 113.9L227.1 86.2M179.3 113.9L131.4 86.2M179.3 113.9L227.1 141.6M179.3 113.9L131.4 141.6M275.0 113.9L275.0 58.6M275.0 113.9L275.0 169.2M275.0 113.9L322.8 86.2M275.0 113.9L227.1 86.2M275.0 113.9L322.8 141.6M275.0 113.9L227.1 141.6M370.7 113.9L370.7 58.6M370.7 113.9L370.7 169.2M370.7 113.9L418.5 86.2M370.7 113.9L322.8 86.2M370.7 113.9L418.5 141.6M370.7 113.9L322.8 141.6M466.4 113.9L466.4 58.6M466.4 113.9L466.4 169.2M466.4 113.9L514.2 86.2M466.4 113.9L418.5 86.2M466.4 113.9L514.2 141.6M466.4 113.9L418.5 141.6M562.1 113.9L562.1 58.6M562.1 113.9L562.1 169.2M562.1 113.9L609.9 86.2M562.1 113.9L514.2 86.2M562.1 113.9L609.9 141.6M562.1 113.9L514.2 141.6M657.8 113.9L657.8 58.6M657.8 113.9L657.8 169.2M657.8 113.9L705.6 86.2M657.8 113.9L609.9 86.2M657.8 113.9L705.6 141.6M657.8 113.9L609.9 141.6M753.5 113.9L753.5 58.6M753.5 113.9L753.5 169.2M753.5 113.9L801.3 86.2M753.5 113.9L705.6 86.2M753.5 113.9L801.3 141.6M753.5 113.9L705.6 141.6M-60.0 31.0L-60.0 -24.3M-60.0 31.0L-60.0 86.3M-60.0 31.0L-12.1 3.4M-60.0 31.0L-107.9 3.4M-60.0 31.0L-12.1 58.6M-60.0 31.0L-107.9 58.6M35.7 31.0L35.7 -24.3M35.7 31.0L35.7 86.3M35.7 31.0L83.6 3.4M35.7 31.0L-12.2 3.4M35.7 31.0L83.6 58.6M35.7 31.0L-12.2 58.6M131.4 31.0L131.4 -24.3M131.4 31.0L131.4 86.3M131.4 31.0L179.3 3.4M131.4 31.0L83.5 3.4M131.4 31.0L179.3 58.6M131.4 31.0L83.5 58.6M227.1 31.0L227.1 -24.3M227.1 31.0L227.1 86.3M227.1 31.0L275.0 3.4M227.1 31.0L179.2 3.4M227.1 31.0L275.0 58.6M227.1 31.0L179.2 58.6M322.8 31.0L322.8 -24.3M322.8 31.0L322.8 86.3M322.8 31.0L370.7 3.4M322.8 31.0L274.9 3.4M322.8 31.0L370.7 58.6M322.8 31.0L274.9 58.6M418.5 31.0L418.5 -24.3M418.5 31.0L418.5 86.3M418.5 31.0L466.4 3.4M418.5 31.0L370.6 3.4M418.5 31.0L466.4 58.6M418.5 31.0L370.6 58.6M514.2 31.0L514.2 -24.3M514.2 31.0L514.2 86.3M514.2 31.0L562.1 3.4M514.2 31.0L466.3 3.4M514.2 31.0L562.1 58.6M514.2 31.0L466.3 58.6M609.9 31.0L609.9 -24.3M609.9 31.0L609.9 86.3M609.9 31.0L657.8 3.4M609.9 31.0L562.0 3.4M609.9 31.0L657.8 58.6M609.9 31.0L562.0 58.6M705.6 31.0L705.6 -24.3M705.6 31.0L705.6 86.3M705.6 31.0L753.5 3.4M705.6 31.0L657.7 3.4M705.6 31.0L753.5 58.6M705.6 31.0L657.7 58.6M801.3 31.0L801.3 -24.3M801.3 31.0L801.3 86.3M801.3 31.0L849.2 3.4M801.3 31.0L753.4 3.4M801.3 31.0L849.2 58.6M801.3 31.0L753.4 58.6M-12.1 -51.9L-12.1 -107.2M-12.1 -51.9L-12.1 3.4M-12.1 -51.9L35.7 -79.5M-12.1 -51.9L-60.0 -79.5M-12.1 -51.9L35.7 -24.2M-12.1 -51.9L-60.0 -24.2M83.6 -51.9L83.6 -107.2M83.6 -51.9L83.6 3.4M83.6 -51.9L131.4 -79.5M83.6 -51.9L35.7 -79.5M83.6 -51.9L131.4 -24.2M83.6 -51.9L35.7 -24.2M179.3 -51.9L179.3 -107.2M179.3 -51.9L179.3 3.4M179.3 -51.9L227.1 -79.5M179.3 -51.9L131.4 -79.5M179.3 -51.9L227.1 -24.2M179.3 -51.9L131.4 -24.2M275.0 -51.9L275.0 -107.2M275.0 -51.9L275.0 3.4M275.0 -51.9L322.8 -79.5M275.0 -51.9L227.1 -79.5M275.0 -51.9L322.8 -24.2M275.0 -51.9L227.1 -24.2M370.7 -51.9L370.7 -107.2M370.7 -51.9L370.7 3.4M370.7 -51.9L418.5 -79.5M370.7 -51.9L322.8 -79.5M370.7 -51.9L418.5 -24.2M370.7 -51.9L322.8 -24.2M466.4 -51.9L466.4 -107.2M466.4 -51.9L466.4 3.4M466.4 -51.9L514.2 -79.5M466.4 -51.9L418.5 -79.5M466.4 -51.9L514.2 -24.2M466.4 -51.9L418.5 -24.2M562.1 -51.9L562.1 -107.2M562.1 -51.9L562.1 3.4M562.1 -51.9L609.9 -79.5M562.1 -51.9L514.2 -79.5M562.1 -51.9L609.9 -24.2M562.1 -51.9L514.2 -24.2M657.8 -51.9L657.8 -107.2M657.8 -51.9L657.8 3.4M657.8 -51.9L705.6 -79.5M657.8 -51.9L609.9 -79.5M657.8 -51.9L705.6 -24.2M657.8 -51.9L609.9 -24.2M753.5 -51.9L753.5 -107.2M753.5 -51.9L753.5 3.4M753.5 -51.9L801.3 -79.5M753.5 -51.9L705.6 -79.5M753.5 -51.9L801.3 -24.2M753.5 -51.9L705.6 -24.2" stroke="#ffffff" stroke-width="1" stroke-opacity="0.1" fill="none" clip-path="url(#cpYO)"/>
<!-- watermarks -->
<g opacity="0.17">
  <g transform="translate(93,289) rotate(-22)">
    <path d="M-21 -19 L-7 -19 Q0 -25 7 -19 L21 -19 L21 3 Q19 18 0 26 Q-19 18 -21 3 Z" fill="none" stroke="#3a3a3a" stroke-width="3.2" stroke-linejoin="round"/>
    <g fill="#e03030" transform="translate(3,1)">
      <ellipse cx="0" cy="-5.5" rx="4.2" ry="5.5"/><ellipse cx="0" cy="5.5" rx="4.2" ry="5.5"/><ellipse cx="-5.5" cy="0" rx="5.5" ry="4.2"/><ellipse cx="5.5" cy="0" rx="5.5" ry="4.2"/>
    </g>
  </g>
  <g transform="translate(131,283) rotate(-25)">
    <text x="0" y="0" style="font-family:'Liberation Serif',serif" font-size="52" fill="#3a3a3a">GPSH</text>
    <text x="15" y="15" style="font-family:'Liberation Serif',serif" font-size="10" textLength="105" lengthAdjust="spacingAndGlyphs" fill="#7a3a3a">Where health meets healing</text>
  </g>
</g>
<g opacity="0.19">
  <g transform="translate(467.5,292) rotate(-22)">
    <path d="M-21 -19 L-7 -19 Q0 -25 7 -19 L21 -19 L21 3 Q19 18 0 26 Q-19 18 -21 3 Z" fill="none" stroke="#3a3a3a" stroke-width="3.2" stroke-linejoin="round"/>
    <g fill="#e03030" transform="translate(3,1)">
      <ellipse cx="0" cy="-5.5" rx="4.2" ry="5.5"/><ellipse cx="0" cy="5.5" rx="4.2" ry="5.5"/><ellipse cx="-5.5" cy="0" rx="5.5" ry="4.2"/><ellipse cx="5.5" cy="0" rx="5.5" ry="4.2"/>
    </g>
  </g>
  <g transform="translate(504,287) rotate(-26) scale(1.1)">
    <text x="0" y="0" style="font-family:'Liberation Serif',serif" font-size="52" fill="#3a3a3a">GPSH</text>
    <text x="15" y="15" style="font-family:'Liberation Serif',serif" font-size="9.5" textLength="97" lengthAdjust="spacingAndGlyphs" fill="#7a3a3a">Where health meets healing</text>
  </g>
</g>

<!-- arrow -->
<g filter="url(#arShadow)">
<polygon points="514.2,197.5 535.7,235.3 519.8,235.3 517.8,350 510.6,350 508.6,235.3 492.3,235.3" fill="#3d4044" stroke="#fffbe0" stroke-width="1.1" stroke-linejoin="miter"/>
</g>
<!-- hub -->
<circle cx="514" cy="395.6" r="53" fill="url(#hubRing)" stroke="#5a5a50" stroke-opacity="0.55" stroke-width="0.8"/>
<circle cx="514" cy="395.6" r="47.7" fill="#4a4a4b"/>

<!-- bottom white line -->
<rect x="4" y="395.6" width="760" height="2" fill="#f4f4f4"/>

<!-- title -->
<g filter="url(#tshadow)" font-weight="bold" fill="#fff" stroke="#fff" stroke-width="6.4" stroke-linejoin="round">
 <g font-size="42.3">
  <text x="22.06" y="74.6" textLength="31.69" lengthAdjust="spacingAndGlyphs">N</text>
  <text x="55.07" y="74.6" textLength="34.70" lengthAdjust="spacingAndGlyphs">O</text>
  <text x="91.10" y="74.6" textLength="24.80" lengthAdjust="spacingAndGlyphs">R</text>
  <text x="118.92" y="74.6" textLength="38.36" lengthAdjust="spacingAndGlyphs">M</text>
  <text x="157.69" y="74.6" textLength="32.08" lengthAdjust="spacingAndGlyphs">A</text>
  <text x="191.04" y="74.6" textLength="18.81" lengthAdjust="spacingAndGlyphs">L</text>
  <text x="222.93" y="74.6" textLength="31.15" lengthAdjust="spacingAndGlyphs">C</text>
  <text x="255.53" y="74.6" textLength="29.91" lengthAdjust="spacingAndGlyphs">H</text>
  <text x="287.63" y="74.6" textLength="35.49" lengthAdjust="spacingAndGlyphs">O</text>
  <text x="323.62" y="74.6" textLength="18.09" lengthAdjust="spacingAndGlyphs">L</text>
  <text x="344.93" y="74.6" textLength="19.62" lengthAdjust="spacingAndGlyphs">E</text>
  <text x="367.79" y="74.6" textLength="23.49" lengthAdjust="spacingAndGlyphs">S</text>
  <text x="394.88" y="74.6" textLength="22.61" lengthAdjust="spacingAndGlyphs">T</text>
  <text x="421.92" y="74.6" textLength="19.74" lengthAdjust="spacingAndGlyphs">E</text>
  <text x="445.03" y="74.6" textLength="25.09" lengthAdjust="spacingAndGlyphs">R</text>
  <text x="472.85" y="74.6" textLength="35.15" lengthAdjust="spacingAndGlyphs">O</text>
  <text x="509.44" y="74.6" textLength="17.85" lengthAdjust="spacingAndGlyphs">L</text>
 </g>
 <g font-size="41.5">
  <text x="23.11" y="126.1" textLength="18.21" lengthAdjust="spacingAndGlyphs">L</text>
  <text x="44.57" y="126.1" textLength="20.21" lengthAdjust="spacingAndGlyphs">E</text>
  <text x="68.19" y="126.1" textLength="30.32" lengthAdjust="spacingAndGlyphs">V</text>
  <text x="100.97" y="126.1" textLength="21.28" lengthAdjust="spacingAndGlyphs">E</text>
  <text x="124.83" y="126.1" textLength="17.97" lengthAdjust="spacingAndGlyphs">L</text>
  <text x="156.00" y="126.1" textLength="25.94" lengthAdjust="spacingAndGlyphs">R</text>
  <text x="183.20" y="126.1" textLength="34.66" lengthAdjust="spacingAndGlyphs">A</text>
  <text x="216.78" y="126.1" textLength="33.11" lengthAdjust="spacingAndGlyphs">N</text>
  <text x="249.21" y="126.1" textLength="35.85" lengthAdjust="spacingAndGlyphs">G</text>
  <text x="285.80" y="126.1" textLength="17.95" lengthAdjust="spacingAndGlyphs">E</text>
 </g>
</g>
<g font-weight="bold" stroke-width="2.2" stroke-linejoin="round">
 <g font-size="42.3" fill="url(#t1)" stroke="url(#t1)">
  <text x="22.06" y="74.6" textLength="31.69" lengthAdjust="spacingAndGlyphs">N</text>
  <text x="55.07" y="74.6" textLength="34.70" lengthAdjust="spacingAndGlyphs">O</text>
  <text x="91.10" y="74.6" textLength="24.80" lengthAdjust="spacingAndGlyphs">R</text>
  <text x="118.92" y="74.6" textLength="38.36" lengthAdjust="spacingAndGlyphs">M</text>
  <text x="157.69" y="74.6" textLength="32.08" lengthAdjust="spacingAndGlyphs">A</text>
  <text x="191.04" y="74.6" textLength="18.81" lengthAdjust="spacingAndGlyphs">L</text>
  <text x="222.93" y="74.6" textLength="31.15" lengthAdjust="spacingAndGlyphs">C</text>
  <text x="255.53" y="74.6" textLength="29.91" lengthAdjust="spacingAndGlyphs">H</text>
  <text x="287.63" y="74.6" textLength="35.49" lengthAdjust="spacingAndGlyphs">O</text>
  <text x="323.62" y="74.6" textLength="18.09" lengthAdjust="spacingAndGlyphs">L</text>
  <text x="344.93" y="74.6" textLength="19.62" lengthAdjust="spacingAndGlyphs">E</text>
  <text x="367.79" y="74.6" textLength="23.49" lengthAdjust="spacingAndGlyphs">S</text>
  <text x="394.88" y="74.6" textLength="22.61" lengthAdjust="spacingAndGlyphs">T</text>
  <text x="421.92" y="74.6" textLength="19.74" lengthAdjust="spacingAndGlyphs">E</text>
  <text x="445.03" y="74.6" textLength="25.09" lengthAdjust="spacingAndGlyphs">R</text>
  <text x="472.85" y="74.6" textLength="35.15" lengthAdjust="spacingAndGlyphs">O</text>
  <text x="509.44" y="74.6" textLength="17.85" lengthAdjust="spacingAndGlyphs">L</text>
 </g>
 <g font-size="41.5" fill="url(#t2)" stroke="url(#t2)">
  <text x="23.11" y="126.1" textLength="18.21" lengthAdjust="spacingAndGlyphs">L</text>
  <text x="44.57" y="126.1" textLength="20.21" lengthAdjust="spacingAndGlyphs">E</text>
  <text x="68.19" y="126.1" textLength="30.32" lengthAdjust="spacingAndGlyphs">V</text>
  <text x="100.97" y="126.1" textLength="21.28" lengthAdjust="spacingAndGlyphs">E</text>
  <text x="124.83" y="126.1" textLength="17.97" lengthAdjust="spacingAndGlyphs">L</text>
  <text x="156.00" y="126.1" textLength="25.94" lengthAdjust="spacingAndGlyphs">R</text>
  <text x="183.20" y="126.1" textLength="34.66" lengthAdjust="spacingAndGlyphs">A</text>
  <text x="216.78" y="126.1" textLength="33.11" lengthAdjust="spacingAndGlyphs">N</text>
  <text x="249.21" y="126.1" textLength="35.85" lengthAdjust="spacingAndGlyphs">G</text>
  <text x="285.80" y="126.1" textLength="17.95" lengthAdjust="spacingAndGlyphs">E</text>
 </g>
</g>

<!-- subtitle -->
<g font-size="22.3" fill="#fff" stroke="#fff" stroke-width="4.6" stroke-linejoin="round" filter="url(#tshadow)">
  <text x="24.83" y="175.9" textLength="14.94" lengthAdjust="spacingAndGlyphs">A</text>
  <text x="40.07" y="175.9" textLength="16.02" lengthAdjust="spacingAndGlyphs">g</text>
  <text x="54.50" y="175.9" textLength="15.35" lengthAdjust="spacingAndGlyphs">e</text>
  <text x="68.60" y="175.9" textLength="11.80" lengthAdjust="spacingAndGlyphs">-</text>
  <text x="82.47" y="175.9" textLength="22.13" lengthAdjust="spacingAndGlyphs">W</text>
  <text x="104.91" y="175.9" textLength="6.19" lengthAdjust="spacingAndGlyphs">i</text>
  <text x="111.30" y="175.9" textLength="10.38" lengthAdjust="spacingAndGlyphs">s</text>
  <text x="122.01" y="175.9" textLength="15.23" lengthAdjust="spacingAndGlyphs">e</text>
  <text x="143.35" y="175.9" textLength="17.39" lengthAdjust="spacingAndGlyphs">C</text>
  <text x="161.06" y="175.9" textLength="14.57" lengthAdjust="spacingAndGlyphs">h</text>
  <text x="176.30" y="175.9" textLength="14.02" lengthAdjust="spacingAndGlyphs">a</text>
  <text x="191.80" y="175.9" textLength="9.39" lengthAdjust="spacingAndGlyphs">r</text>
  <text x="201.46" y="175.9" textLength="7.67" lengthAdjust="spacingAndGlyphs">t</text>
  <text x="215.53" y="175.9" textLength="16.07" lengthAdjust="spacingAndGlyphs">&amp;</text>
  <text x="236.98" y="175.9" textLength="18.53" lengthAdjust="spacingAndGlyphs">G</text>
  <text x="254.51" y="175.9" textLength="16.36" lengthAdjust="spacingAndGlyphs">u</text>
  <text x="270.29" y="175.9" textLength="5.94" lengthAdjust="spacingAndGlyphs">i</text>
  <text x="276.27" y="175.9" textLength="16.02" lengthAdjust="spacingAndGlyphs">d</text>
  <text x="292.08" y="175.9" textLength="14.40" lengthAdjust="spacingAndGlyphs">e</text>
</g>
<g font-size="22.3" fill="#1b2745" stroke="#1b2745" stroke-width="0.35">
  <text x="24.83" y="175.9" textLength="14.94" lengthAdjust="spacingAndGlyphs">A</text>
  <text x="40.07" y="175.9" textLength="16.02" lengthAdjust="spacingAndGlyphs">g</text>
  <text x="54.50" y="175.9" textLength="15.35" lengthAdjust="spacingAndGlyphs">e</text>
  <text x="68.60" y="175.9" textLength="11.80" lengthAdjust="spacingAndGlyphs">-</text>
  <text x="82.47" y="175.9" textLength="22.13" lengthAdjust="spacingAndGlyphs">W</text>
  <text x="104.91" y="175.9" textLength="6.19" lengthAdjust="spacingAndGlyphs">i</text>
  <text x="111.30" y="175.9" textLength="10.38" lengthAdjust="spacingAndGlyphs">s</text>
  <text x="122.01" y="175.9" textLength="15.23" lengthAdjust="spacingAndGlyphs">e</text>
  <text x="143.35" y="175.9" textLength="17.39" lengthAdjust="spacingAndGlyphs">C</text>
  <text x="161.06" y="175.9" textLength="14.57" lengthAdjust="spacingAndGlyphs">h</text>
  <text x="176.30" y="175.9" textLength="14.02" lengthAdjust="spacingAndGlyphs">a</text>
  <text x="191.80" y="175.9" textLength="9.39" lengthAdjust="spacingAndGlyphs">r</text>
  <text x="201.46" y="175.9" textLength="7.67" lengthAdjust="spacingAndGlyphs">t</text>
  <text x="215.53" y="175.9" textLength="16.07" lengthAdjust="spacingAndGlyphs">&amp;</text>
  <text x="236.98" y="175.9" textLength="18.53" lengthAdjust="spacingAndGlyphs">G</text>
  <text x="254.51" y="175.9" textLength="16.36" lengthAdjust="spacingAndGlyphs">u</text>
  <text x="270.29" y="175.9" textLength="5.94" lengthAdjust="spacingAndGlyphs">i</text>
  <text x="276.27" y="175.9" textLength="16.02" lengthAdjust="spacingAndGlyphs">d</text>
  <text x="292.08" y="175.9" textLength="14.40" lengthAdjust="spacingAndGlyphs">e</text>
</g>

<!-- labels -->
<g font-weight="bold" font-size="23.6" fill="#121212" stroke="#121212" stroke-width="0.6">
  <text x="446.7" y="146.8" textLength="134.0" lengthAdjust="spacingAndGlyphs">Prediabetic</text>
  <text x="450.3" y="183" textLength="125.4" lengthAdjust="spacingAndGlyphs">5.7%-6.4%</text>
  <text x="296.3" y="298.5" textLength="87.5" lengthAdjust="spacingAndGlyphs">Normal</text>
  <text x="303.1" y="334.7" textLength="73.6" lengthAdjust="spacingAndGlyphs">&lt;5.7%</text>
  <text x="646.1" y="298.5" textLength="98.5" lengthAdjust="spacingAndGlyphs">Diabetic</text>
  <text x="658.3" y="333.7" textLength="74.6" lengthAdjust="spacingAndGlyphs">&gt;6.5%</text>
</g>

<!-- frame -->
<rect x="0" y="0" width="768" height="4.2" fill="url(#fTop)"/>
<rect x="0" y="0" width="4.3" height="402" fill="url(#fLeft)"/>
<rect x="0" y="397.5" width="768" height="4.5" fill="url(#fBot)"/>
<rect x="763.6" y="0" width="4.4" height="402" fill="url(#fRight)"/>
</svg>
</body></html>
